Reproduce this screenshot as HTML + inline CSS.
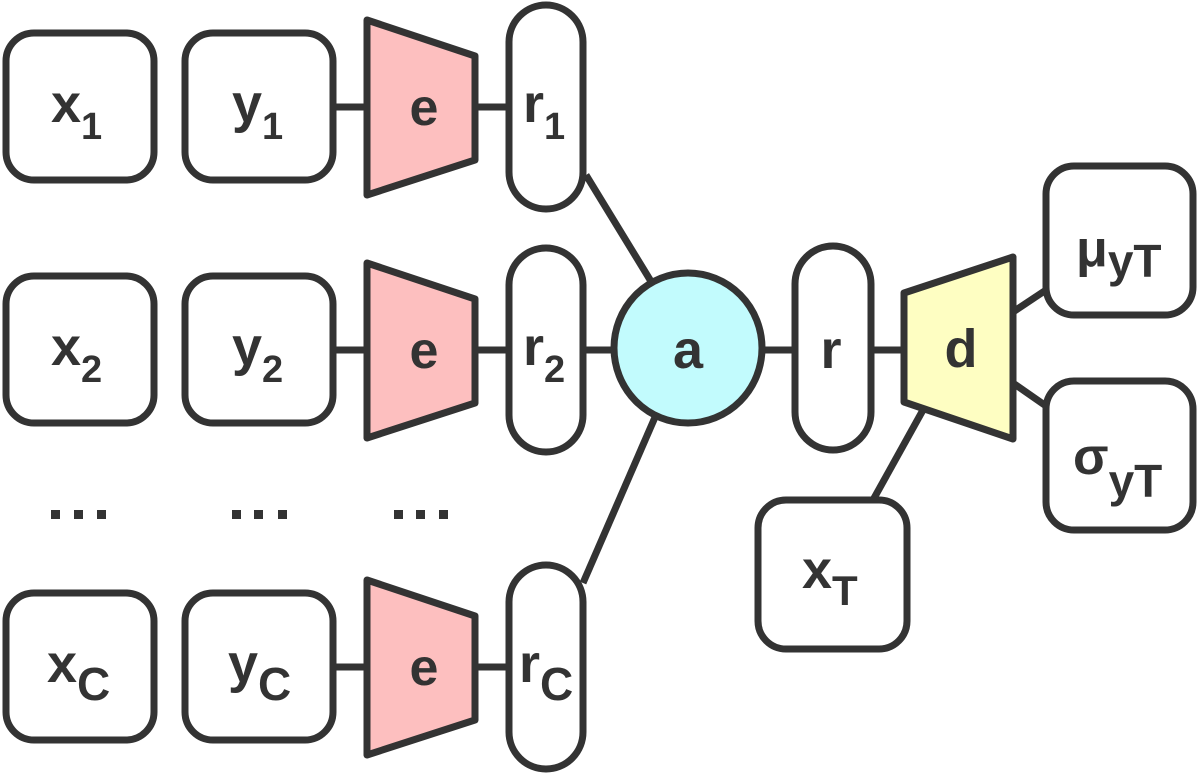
<!DOCTYPE html>
<html><head><meta charset="utf-8"><style>
html,body{margin:0;padding:0;background:#fff;}
svg{display:block;}
text{font-family:"Liberation Sans",Arial,sans-serif;font-weight:bold;fill:#333;}
</style></head><body>
<svg width="1200" height="776" viewBox="0 0 1200 776" xmlns="http://www.w3.org/2000/svg">
<defs>
<g id="row">
  <line x1="333" y1="107" x2="367" y2="107" stroke="#333" stroke-width="7"/>
  <line x1="475" y1="107" x2="509" y2="107" stroke="#333" stroke-width="7"/>
  <rect x="6" y="33" width="148" height="147" rx="28" fill="#fff" stroke="#333" stroke-width="7"/>
  <rect x="185" y="33" width="148" height="147" rx="28" fill="#fff" stroke="#333" stroke-width="7"/>
  <polygon points="367,20 475,56 475,160 367,195" fill="#fdbfbf" stroke="#333" stroke-width="7" stroke-linejoin="round"/>
  <rect x="509" y="5" width="74" height="204" rx="37" fill="#fff" stroke="#333" stroke-width="7"/>
  <text x="424" y="125" font-size="52" text-anchor="middle">e</text>
</g>
</defs>
<line x1="586" y1="175" x2="652" y2="283" stroke="#333" stroke-width="7"/>
<line x1="656" y1="415" x2="583" y2="583" stroke="#333" stroke-width="7"/>
<line x1="583" y1="350" x2="612" y2="350" stroke="#333" stroke-width="7"/>
<line x1="765" y1="350" x2="795" y2="350" stroke="#333" stroke-width="7"/>
<line x1="871" y1="350" x2="904" y2="350" stroke="#333" stroke-width="7"/>
<line x1="1013" y1="312" x2="1046" y2="290" stroke="#333" stroke-width="7"/>
<line x1="1013" y1="383" x2="1046" y2="406" stroke="#333" stroke-width="7"/>
<line x1="923" y1="410" x2="873" y2="500" stroke="#333" stroke-width="7"/>

<use href="#row"/>
<use href="#row" transform="translate(0,243)"/>
<use href="#row" transform="translate(0,560)"/>

<g font-size="54">
<text x="51" y="122">x<tspan font-size="38" dy="17">1</tspan></text>
<text x="232" y="122">y<tspan font-size="38" dy="17">1</tspan></text>
<text x="523" y="122">r<tspan font-size="38" dy="17">1</tspan></text>
<text x="51" y="365">x<tspan font-size="38" dy="17">2</tspan></text>
<text x="232" y="365">y<tspan font-size="38" dy="17">2</tspan></text>
<text x="523" y="365">r<tspan font-size="38" dy="17">2</tspan></text>
<text x="47" y="682">x<tspan font-size="46" dy="18">C</tspan></text>
<text x="228" y="682">y<tspan font-size="46" dy="18">C</tspan></text>
<text x="519" y="682">r<tspan font-size="46" dy="18">C</tspan></text>
</g>

<g fill="#333">
<rect x="51" y="510" width="9" height="9"/><rect x="74" y="510" width="9" height="9"/><rect x="97" y="510" width="9" height="9"/>
<rect x="232" y="510" width="9" height="9"/><rect x="254" y="510" width="9" height="9"/><rect x="278" y="510" width="9" height="9"/>
<rect x="394" y="510" width="9" height="9"/><rect x="416" y="510" width="9" height="9"/><rect x="439" y="510" width="9" height="9"/>
</g>

<ellipse cx="688" cy="348" rx="74" ry="75" fill="#c2fbfd" stroke="#333" stroke-width="7"/>
<text x="688" y="368" font-size="54" text-anchor="middle">a</text>
<rect x="795" y="246" width="76" height="204" rx="38" fill="#fff" stroke="#333" stroke-width="7"/>
<text x="831" y="368" font-size="54" text-anchor="middle">r</text>
<polygon points="904,293 1013,257 1013,439 904,402" fill="#fefec2" stroke="#333" stroke-width="7" stroke-linejoin="round"/>
<text x="961" y="367" font-size="54" text-anchor="middle">d</text>
<rect x="1046" y="166" width="147" height="149" rx="28" fill="#fff" stroke="#333" stroke-width="7"/>
<text x="1076" y="266" font-size="52">μ<tspan font-size="46" dy="11">yT</tspan></text>
<rect x="1046" y="381" width="147" height="149" rx="28" fill="#fff" stroke="#333" stroke-width="7"/>
<text x="1073" y="474" font-size="52">σ<tspan font-size="46" dy="23">yT</tspan></text>
<rect x="758" y="500" width="149" height="149" rx="28" fill="#fff" stroke="#333" stroke-width="7"/>
<text x="802" y="588" font-size="54">x<tspan font-size="42" dy="17">T</tspan></text>
</svg>
</body></html>
